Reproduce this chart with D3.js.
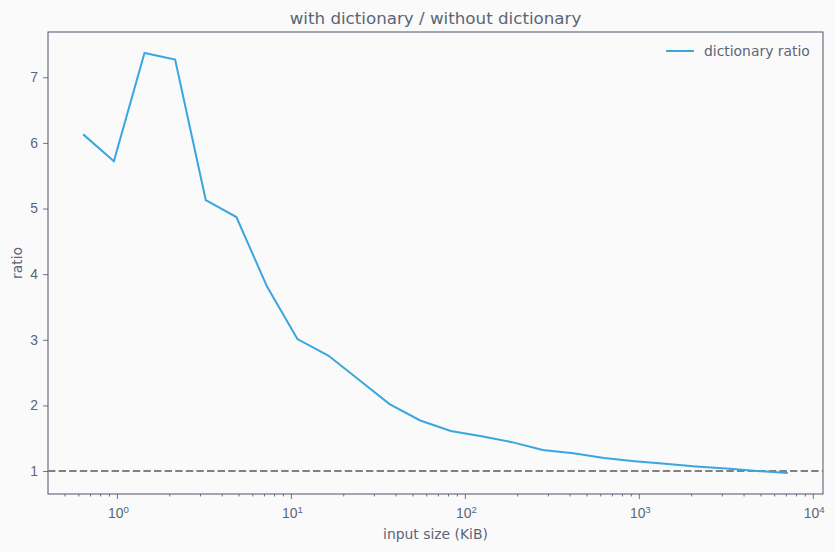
<!DOCTYPE html>
<html>
<head>
<meta charset="utf-8">
<script src="https://cdn.jsdelivr.net/npm/d3@7"></script>
<style>
  body { margin: 0; background: #fafafa; }
  svg { display: block; font-family: "DejaVu Sans", sans-serif; }
</style>
</head>
<body>
<svg id="chart"></svg>
<script>
// input sizes in KiB (x) and the with/without dictionary ratio (y)
const sizes = [0.64, 0.96, 1.44, 2.16, 3.24, 4.86, 7.29, 10.9, 16.4, 24.6, 36.9, 55.4,
               83.0, 124.5, 186.8, 280.2, 420.3, 630.5, 945.7, 1418.6, 2127.8, 3191.8, 4787.7, 7181.5];
const ratios = [6.13, 5.72, 7.37, 7.27, 5.13, 4.87, 3.81, 3.01, 2.76, 2.39, 2.02, 1.77,
                1.61, 1.53, 1.44, 1.32, 1.27, 1.20, 1.15, 1.11, 1.07, 1.04, 1.00, 0.97];
const yTicks = [1, 2, 3, 4, 5, 6, 7];
const xMajor = [1, 10, 100, 1000, 10000];
const baseline = 1;

const width = 835, height = 552;
const margin = { top: 32, right: 12, bottom: 58, left: 48 };
const textColor = "#5a6577";
const spineColor = "#4a5568";
const fs = "13.9px";

const svg = d3.select("#chart")
  .attr("width", width)
  .attr("height", height);

// 5% margins in log / linear space, like the original
const lx = d3.extent(sizes).map(Math.log10);
const padX = (lx[1] - lx[0]) * 0.05;
const ey = d3.extent(ratios);
const padY = (ey[1] - ey[0]) * 0.05;

const xScale = d3.scaleLog()
  .domain([Math.pow(10, lx[0] - padX), Math.pow(10, lx[1] + padX)])
  .range([margin.left, width - margin.right]);

const yScale = d3.scaleLinear()
  .domain([ey[0] - padY, ey[1] + padY])
  .range([height - margin.bottom, margin.top]);

// minor ticks: 2..9 of every decade inside the domain
const [d0, d1] = xScale.domain();
const xMinor = [];
for (let e = Math.floor(Math.log10(d0)); e <= Math.ceil(Math.log10(d1)); e++) {
  for (let k = 2; k <= 9; k++) {
    const v = k * Math.pow(10, e);
    if (v >= d0 && v <= d1) xMinor.push(v);
  }
}

// axes
const xAxisMinor = d3.axisBottom(xScale).tickValues(xMinor).tickSize(2.5).tickFormat("").tickSizeOuter(0);
const xAxis = d3.axisBottom(xScale).tickValues(xMajor).tickSize(5).tickSizeOuter(0).tickFormat("");
const yAxis = d3.axisLeft(yScale).tickValues(yTicks).tickSize(5).tickPadding(5)
  .tickSizeOuter(0).tickFormat(d3.format("d"));

const gxMinor = svg.append("g")
  .attr("transform", `translate(0, ${height - margin.bottom})`)
  .call(xAxisMinor);

const gx = svg.append("g")
  .attr("transform", `translate(0, ${height - margin.bottom})`)
  .call(xAxis);

// 10^n labels with superscripts
gx.selectAll(".tick").append("text")
  .attr("y", 24)
  .attr("x", 1)
  .attr("text-anchor", "middle")
  .attr("fill", textColor)
  .style("font-size", fs)
  .each(function(d) {
    const t = d3.select(this);
    t.append("tspan").text("10");
    t.append("tspan")
      .attr("dy", "-0.5em")
      .style("font-size", "9.7px")
      .text(Math.round(Math.log10(d)));
  });

const gy = svg.append("g")
  .attr("transform", `translate(${margin.left}, 0)`)
  .call(yAxis);

gy.selectAll("text").attr("fill", textColor).style("font-size", fs);

[gx, gxMinor, gy].forEach(g => {
  g.select(".domain").remove();
  g.selectAll("line").attr("stroke", spineColor).attr("stroke-width", 0.8);
});

// frame
svg.append("rect")
  .attr("x", margin.left)
  .attr("y", margin.top)
  .attr("width", width - margin.left - margin.right)
  .attr("height", height - margin.top - margin.bottom)
  .attr("fill", "none")
  .attr("stroke", spineColor)
  .attr("stroke-width", 1);

// dashed line at ratio 1
svg.append("line")
  .attr("x1", margin.left)
  .attr("x2", width - margin.right)
  .attr("y1", yScale(baseline))
  .attr("y2", yScale(baseline))
  .attr("stroke", "#808080")
  .attr("stroke-width", 2)
  .attr("stroke-dasharray", "7.4,3.2");

// the series
const line = d3.line()
  .x(d => xScale(d[0]))
  .y(d => yScale(d[1]));

svg.append("path")
  .datum(d3.zip(sizes, ratios))
  .attr("d", line)
  .attr("fill", "none")
  .attr("stroke", "#3aa6dd")
  .attr("stroke-width", 2);

// legend
const lg = svg.append("g").attr("transform", "translate(666, 51)");
lg.append("line")
  .attr("x1", 0).attr("x2", 28)
  .attr("stroke", "#3aa6dd")
  .attr("stroke-width", 2);
lg.append("text")
  .attr("x", 38)
  .attr("dy", "0.35em")
  .attr("fill", textColor)
  .style("font-size", fs)
  .text("dictionary ratio");

// axis labels
svg.append("text")
  .attr("x", (margin.left + width - margin.right) / 2)
  .attr("y", 539)
  .attr("text-anchor", "middle")
  .attr("fill", textColor)
  .style("font-size", fs)
  .text("input size (KiB)");

svg.append("text")
  .attr("transform", "rotate(-90)")
  .attr("x", -(margin.top + height - margin.bottom) / 2)
  .attr("y", 22)
  .attr("text-anchor", "middle")
  .attr("fill", textColor)
  .style("font-size", fs)
  .text("ratio");

// title
svg.append("text")
  .attr("x", (margin.left + width - margin.right) / 2)
  .attr("y", 24)
  .attr("text-anchor", "middle")
  .attr("fill", textColor)
  .style("font-size", "16.7px")
  .text("with dictionary / without dictionary");
</script>
</body>
</html>
